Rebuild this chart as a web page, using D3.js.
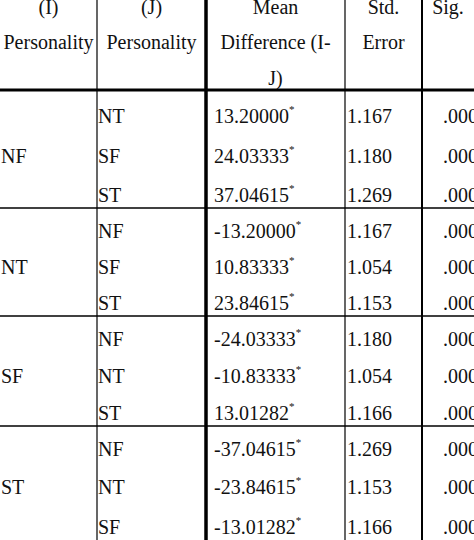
<!DOCTYPE html>
<html><head><meta charset="utf-8">
<script src="https://cdn.jsdelivr.net/npm/d3@7"></script>
<style>body{margin:0;background:#fff}svg{display:block}</style></head>
<body><svg id="c" width="474" height="540"></svg>
<script>
const groups = ["NF","NT","SF","ST"];
const jLabels = [["NT","SF","ST"],["NF","SF","ST"],["NF","NT","ST"],["NF","NT","SF"]];
const meanDiff = [["13.20000","24.03333","37.04615"],["-13.20000","10.83333","23.84615"],["-24.03333","-10.83333","13.01282"],["-37.04615","-23.84615","-13.01282"]];
const stdErr = [["1.167","1.180","1.269"],["1.167","1.054","1.153"],["1.180","1.054","1.166"],["1.269","1.153","1.166"]];
const sig = [[".000",".000",".000"],[".000",".000",".000"],[".000",".000",".000"],[".000",".000",".000"]];

const svg = d3.select("#c");
const font = "'Liberation Serif','Times New Roman',serif";
const fs = 20;
const colX = [0, 97, 206, 345, 422, 474];
const gTop = [91, 208, 316, 426];
const rowOff = [[27,67,106],[25,61,97],[25,62,99],[25,63,103]];

const headers = [
  {x:(colX[0]+colX[1])/2, lines:["(I)","Personality"]},
  {x:(colX[1]+colX[2])/2, lines:["(J)","Personality"]},
  {x:(colX[2]+colX[3])/2, lines:["Mean","Difference (I-","J)"]},
  {x:(colX[3]+colX[4])/2, lines:["Std.","Error"]},
  {x:448, lines:["Sig."]}
];
const hy = [9, 44, 80];
headers.forEach(h=>{
  h.lines.forEach((t,i)=>{
    svg.append("text").attr("x",h.x).attr("y",hy[i]).attr("text-anchor","middle")
      .attr("dominant-baseline","middle").attr("font-family",font).attr("font-size",fs).attr("fill","#111").text(t);
  });
});

const txt = (x,y,t,anchor="start")=>svg.append("text").attr("x",x).attr("y",y)
  .attr("text-anchor",anchor).attr("dominant-baseline","middle")
  .attr("font-family",font).attr("font-size",fs).attr("fill","#111").text(t);

groups.forEach((g,gi)=>{
  txt(1, gTop[gi]+rowOff[gi][1], g);
  for(let r=0;r<3;r++){
    const y = gTop[gi]+rowOff[gi][r];
    txt(colX[1]+1, y, jLabels[gi][r]);
    const t = txt(colX[2]+8, y, meanDiff[gi][r]);
    t.append("tspan").attr("font-size",11).attr("dy",-8).text("*");
    txt(colX[3]+2, y, stdErr[gi][r]);
    txt(478, y, sig[gi][r], "end");
  }
});

const line=(x1,y1,x2,y2,w)=>svg.append("line").attr("x1",x1).attr("y1",y1).attr("x2",x2).attr("y2",y2)
  .attr("stroke","#000").attr("stroke-width",w);
line(colX[1],0,colX[1],540,1.2);
line(colX[2],0,colX[2],540,3.5);
line(colX[3],0,colX[3],540,1.2);
line(colX[4],0,colX[4],540,2);
line(0,gTop[0]-1,474,gTop[0]-1,3);
[1,2,3].forEach(i=>line(0,gTop[i],474,gTop[i],1.3));
</script></body></html>
